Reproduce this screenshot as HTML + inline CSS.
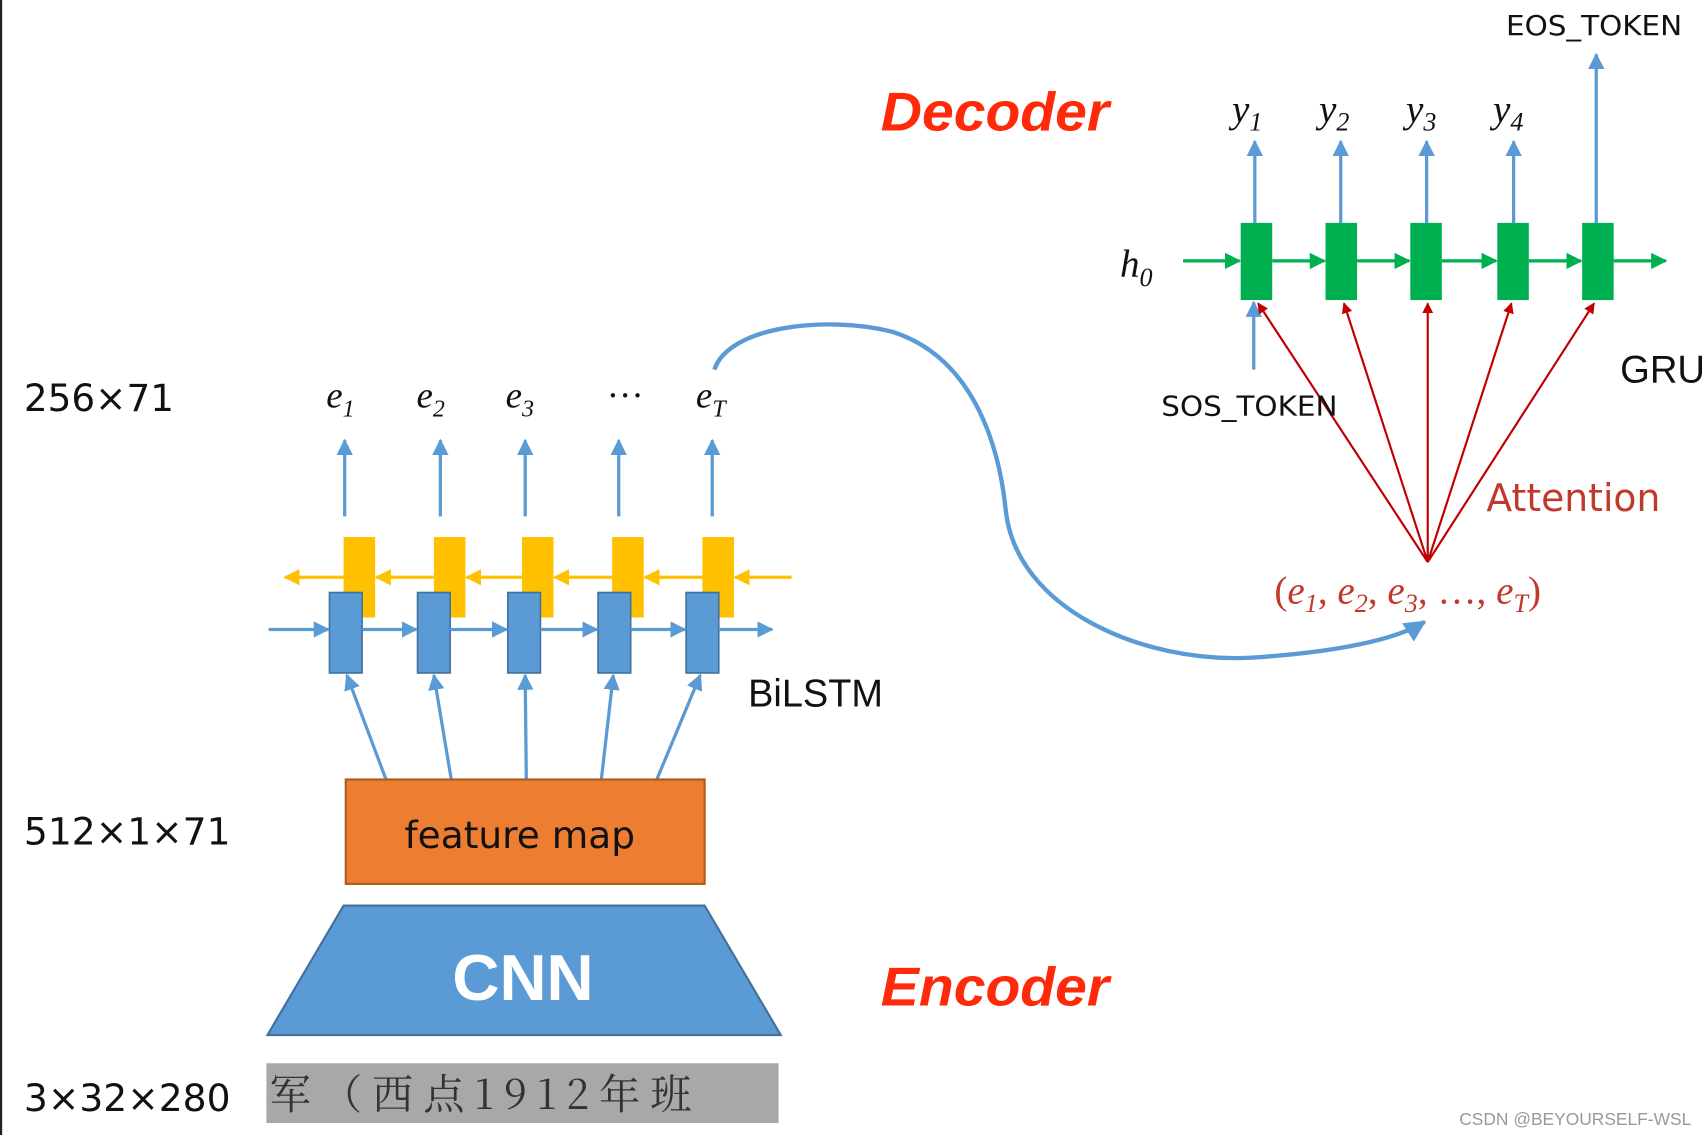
<!DOCTYPE html>
<html><head><meta charset="utf-8"><style>
html,body{margin:0;padding:0;background:#fff;}
svg{display:block;}
.s{font-family:"Liberation Sans","Noto Sans CJK SC",sans-serif;}
.d{font-family:"DejaVu Sans","Liberation Sans",sans-serif;}
.m{font-family:"Liberation Serif",serif;font-style:italic;}
</style></head><body>
<svg width="1705" height="1135" viewBox="0 0 1568 1044" preserveAspectRatio="none" xmlns="http://www.w3.org/2000/svg">
<defs>
<marker id="ab" viewBox="0 0 10 10" refX="9" refY="5" markerWidth="5" markerHeight="5" orient="auto"><path d="M0,0L10,5L0,10z" fill="#5B9BD5"/></marker>
<marker id="ay" viewBox="0 0 10 10" refX="9" refY="5" markerWidth="5" markerHeight="5" orient="auto"><path d="M0,0L10,5L0,10z" fill="#FFC000"/></marker>
<marker id="ag" viewBox="0 0 10 10" refX="9" refY="5" markerWidth="5" markerHeight="5" orient="auto"><path d="M0,0L10,5L0,10z" fill="#00B050"/></marker>
<marker id="ar" viewBox="0 0 10 10" refX="9" refY="5" markerWidth="5" markerHeight="5" orient="auto"><path d="M0,0L10,5L0,10z" fill="#C00000"/></marker>
</defs>
<rect x="0" y="0" width="2" height="1044" fill="#222"/>
<g class="d" font-size="34" fill="#111">
<text x="22" y="378" textLength="138" lengthAdjust="spacingAndGlyphs">256×71</text>
<text x="22" y="777" textLength="190" lengthAdjust="spacingAndGlyphs">512×1×71</text>
<text x="22" y="1022" textLength="190" lengthAdjust="spacingAndGlyphs">3×32×280</text>
</g>
<g class="s" font-size="36" fill="#111">
<text x="688" y="650" textLength="124" lengthAdjust="spacingAndGlyphs">BiLSTM</text>
<text x="1490" y="352" textLength="78" lengthAdjust="spacingAndGlyphs">GRU</text>
</g>
<g class="m" font-size="34" fill="#111">
<text x="300" y="375">e<tspan font-size="22" dy="8">1</tspan></text>
<text x="383" y="375">e<tspan font-size="22" dy="8">2</tspan></text>
<text x="465" y="375">e<tspan font-size="22" dy="8">3</tspan></text>
<text x="558" y="375" font-style="normal">···</text>
<text x="640" y="375">e<tspan font-size="22" dy="8">T</tspan></text>
</g>
<g stroke="#5B9BD5" stroke-width="3" marker-end="url(#ab)">
<line x1="317" y1="475" x2="317" y2="405"/><line x1="405" y1="475" x2="405" y2="405"/>
<line x1="483" y1="475" x2="483" y2="405"/><line x1="569" y1="475" x2="569" y2="405"/>
<line x1="655" y1="475" x2="655" y2="405"/>
</g>
<g fill="#FFC000">
<rect x="316" y="494" width="29" height="74"/><rect x="399" y="494" width="29" height="74"/>
<rect x="480" y="494" width="29" height="74"/><rect x="563" y="494" width="29" height="74"/>
<rect x="646" y="494" width="29" height="74"/>
</g>
<g stroke="#FFC000" stroke-width="3" marker-end="url(#ay)">
<line x1="728" y1="531" x2="676" y2="531"/><line x1="646" y1="531" x2="593" y2="531"/>
<line x1="563" y1="531" x2="510" y2="531"/><line x1="480" y1="531" x2="429" y2="531"/>
<line x1="399" y1="531" x2="346" y2="531"/><line x1="316" y1="531" x2="262" y2="531"/>
</g>
<g fill="#5B9BD5" stroke="#41719C" stroke-width="1.5">
<rect x="303" y="545" width="30" height="74"/><rect x="384" y="545" width="30" height="74"/>
<rect x="467" y="545" width="30" height="74"/><rect x="550" y="545" width="30" height="74"/>
<rect x="631" y="545" width="30" height="74"/>
</g>
<g stroke="#5B9BD5" stroke-width="3" marker-end="url(#ab)">
<line x1="247" y1="579" x2="302" y2="579"/><line x1="333" y1="579" x2="383" y2="579"/>
<line x1="414" y1="579" x2="466" y2="579"/><line x1="497" y1="579" x2="549" y2="579"/>
<line x1="580" y1="579" x2="630" y2="579"/><line x1="661" y1="579" x2="710" y2="579"/>
<line x1="355" y1="717" x2="319" y2="621"/><line x1="415" y1="717" x2="399" y2="621"/>
<line x1="484" y1="717" x2="483" y2="621"/><line x1="553" y1="717" x2="564" y2="621"/>
<line x1="604" y1="717" x2="644" y2="621"/>
</g>
<rect x="318" y="717" width="330" height="96" fill="#ED7D31" stroke="#AE5A21" stroke-width="2"/>
<text x="372" y="780" class="d" font-size="34" fill="#111" textLength="212" lengthAdjust="spacingAndGlyphs">feature map</text>
<path d="M316,833L648,833L718,952L246,952z" fill="#5B9BD5" stroke="#41719C" stroke-width="2"/>
<text x="481" y="920" class="s" font-size="60" font-weight="bold" fill="#fff" text-anchor="middle">CNN</text>
<rect x="245" y="978" width="471" height="55" fill="#a8a8a8"/>
<text x="248" y="1020" font-family="'Noto Serif CJK SC',serif" font-size="38" fill="#333" textLength="388" lengthAdjust="spacing">军（西点1912年班</text>
<g class="s" font-style="italic" font-weight="bold" font-size="50" fill="#FF2A0A">
<text x="810" y="925" textLength="210" lengthAdjust="spacingAndGlyphs">Encoder</text><text x="810" y="120" textLength="210" lengthAdjust="spacingAndGlyphs">Decoder</text>
</g>
<path d="M657,340 C670,300 760,290 820,305 C900,330 920,420 925,470 C935,560 1050,610 1150,605 C1230,600 1285,588 1310,572" fill="none" stroke="#5B9BD5" stroke-width="4" marker-end="url(#ab)"/>
<g stroke="#5B9BD5" stroke-width="3" marker-end="url(#ab)">
<line x1="1154" y1="205" x2="1154" y2="130"/><line x1="1233" y1="205" x2="1233" y2="130"/>
<line x1="1312" y1="205" x2="1312" y2="130"/><line x1="1392" y1="205" x2="1392" y2="130"/>
<line x1="1468" y1="205" x2="1468" y2="50"/><line x1="1153" y1="340" x2="1153" y2="278"/>
</g>
<g stroke="#00B050" stroke-width="3" marker-end="url(#ag)">
<line x1="1088" y1="240" x2="1140" y2="240"/><line x1="1170" y1="240" x2="1218" y2="240"/>
<line x1="1248" y1="240" x2="1296" y2="240"/><line x1="1326" y1="240" x2="1376" y2="240"/>
<line x1="1406" y1="240" x2="1454" y2="240"/><line x1="1484" y1="240" x2="1532" y2="240"/>
</g>
<g fill="#00B050">
<rect x="1141" y="205" width="29" height="71"/><rect x="1219" y="205" width="29" height="71"/>
<rect x="1297" y="205" width="29" height="71"/><rect x="1377" y="205" width="29" height="71"/>
<rect x="1455" y="205" width="29" height="71"/>
</g>
<g stroke="#C00000" stroke-width="2" marker-end="url(#ar)">
<line x1="1313" y1="517" x2="1157" y2="279"/><line x1="1313" y1="517" x2="1236" y2="279"/>
<line x1="1313" y1="517" x2="1313" y2="279"/><line x1="1313" y1="517" x2="1390" y2="279"/>
<line x1="1313" y1="517" x2="1466" y2="279"/>
</g>
<g class="m" font-size="36" fill="#111">
<text x="1133" y="112">y<tspan font-size="24" dy="8">1</tspan></text>
<text x="1213" y="112">y<tspan font-size="24" dy="8">2</tspan></text>
<text x="1293" y="112">y<tspan font-size="24" dy="8">3</tspan></text>
<text x="1373" y="112">y<tspan font-size="24" dy="8">4</tspan></text>
<text x="1030" y="255">h<tspan font-size="24" dy="8">0</tspan></text>
</g>
<g class="d" font-size="25" fill="#111">
<text x="1385" y="32" textLength="162" lengthAdjust="spacingAndGlyphs">EOS_TOKEN</text><text x="1068" y="382" textLength="162" lengthAdjust="spacingAndGlyphs">SOS_TOKEN</text>
</g>
<text x="1367" y="470" class="d" font-size="35" fill="#C0392B" textLength="160" lengthAdjust="spacingAndGlyphs">Attention</text>
<text x="1172" y="555" class="m" font-size="36" fill="#C0392B"><tspan font-style="normal">(</tspan>e<tspan font-size="24" dy="8">1</tspan><tspan dy="-8" font-style="normal">, </tspan>e<tspan font-size="24" dy="8">2</tspan><tspan dy="-8" font-style="normal">, </tspan>e<tspan font-size="24" dy="8">3</tspan><tspan dy="-8" font-style="normal">, …, </tspan>e<tspan font-size="24" dy="8">T</tspan><tspan dy="-8" font-style="normal">)</tspan></text>
<text x="1342" y="1035" class="s" font-size="16" fill="#999">CSDN @BEYOURSELF-WSL</text>
</svg>
</body></html>
